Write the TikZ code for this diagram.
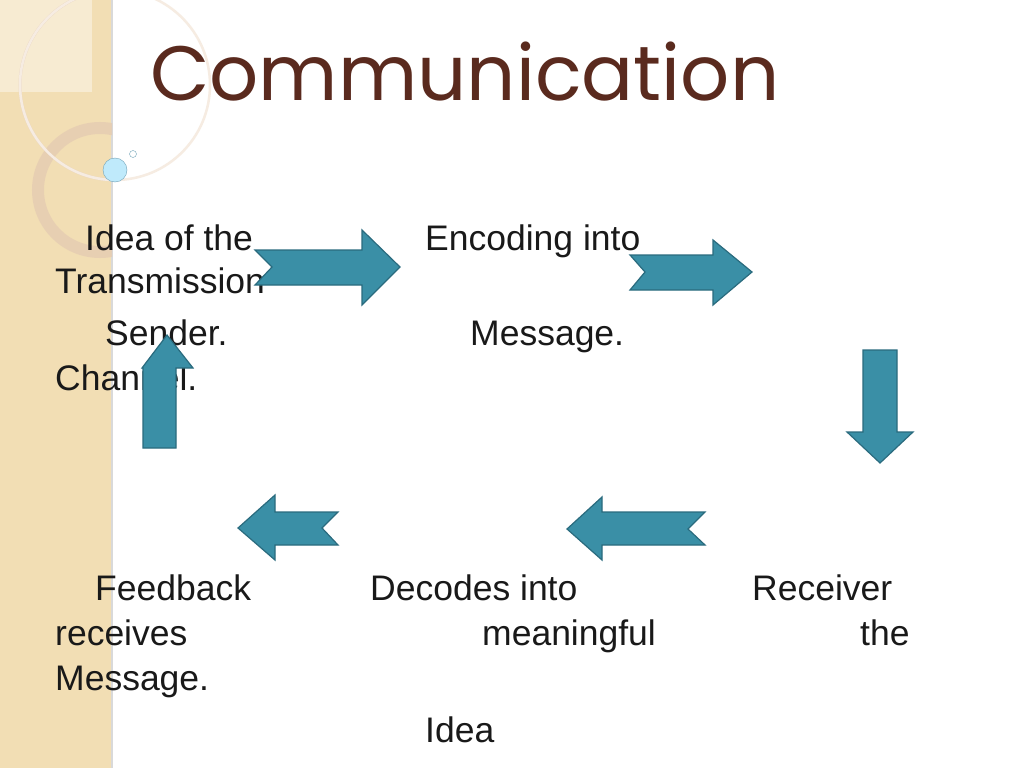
\documentclass[tikz,border=0pt]{standalone}
\usepackage{fontspec}
\setmainfont{Liberation Sans}
\newfontfamily\titlefont{Poppins}
\begin{document}
\begin{tikzpicture}[x=1pt,y=-1pt,
  arr/.style={fill=arrowfill,draw=arrowline,line width=1.2pt,line join=miter},
  txt/.style={anchor=base west,inner sep=0,font=\fontsize{35.5}{40}\selectfont,text=black!90}]
\definecolor{arrowfill}{HTML}{3A8FA6}
\definecolor{arrowline}{HTML}{2A6B7E}
\definecolor{panel}{HTML}{F2DEB4}
\definecolor{titlecol}{HTML}{5A2A1E}
\useasboundingbox (0,0) rectangle (1024,768);
\fill[white] (0,0) rectangle (1024,768);
% left panel
\fill[panel] (0,0) rectangle (112,768);
\fill[panel!60!white] (0,0) rectangle (92,92);
\draw[black!15,line width=2pt] (112,0) -- (112,768);
\begin{scope}
\clip (0,0) rectangle (112,768);
\draw[white!70!brown,line width=3pt] (115,85) circle (95);
\draw[brown!40,opacity=0.8,line width=12pt] (100,190) circle (62);
\end{scope}
\draw[white!85!brown,line width=2.5pt] (115,85) circle (95);
\fill[cyan!25!white,draw=cyan!40!gray] (115,170) circle (12);
\draw[cyan!40!gray] (133,154) circle (3.5);
% title
\node[anchor=base west,inner sep=0,text=titlecol,font=\titlefont\fontsize{77}{80}\selectfont] (title) at (150,100) {Communication};
% texts
\node[txt] (t1) at (85,250) {Idea of the};
\node[txt] (t2) at (55,293) {Transmission};
\node[txt] (t3) at (105,345) {Sender.};
\node[txt] (t4) at (55,390) {Channel.};
\node[txt] (t5) at (425,250) {Encoding into};
\node[txt] (t6) at (470,345) {Message.};
\node[txt] (t7) at (95,600) {Feedback};
\node[txt] (t8) at (55,645) {receives};
\node[txt] (t9) at (55,690) {Message.};
\node[txt] (t10) at (370,600) {Decodes into};
\node[txt] (t11) at (482,645) {meaningful};
\node[txt] (t12) at (425,742) {Idea};
\node[txt] (t13) at (752,600) {Receiver};
\node[txt] (t14) at (860,645) {the};
% arrows
\draw[arr] (255,250) -- (362,250) -- (362,230) -- (400,267) -- (362,305) -- (362,285) -- (255,285) -- (272,267) -- cycle;
\draw[arr] (630,255) -- (713,255) -- (713,240) -- (752,272) -- (713,305) -- (713,290) -- (630,290) -- (645,272) -- cycle;
\draw[arr] (863,350) -- (897,350) -- (897,432) -- (913,432) -- (880,463) -- (847,432) -- (863,432) -- cycle;
\draw[arr] (705,512) -- (602,512) -- (602,497) -- (567,529) -- (602,560) -- (602,545) -- (705,545) -- (688,529) -- cycle;
\draw[arr] (338,512) -- (275,512) -- (275,495) -- (238,528) -- (275,560) -- (275,545) -- (338,545) -- (322,528) -- cycle;
\draw[arr] (176,448) -- (143,448) -- (143,368) -- (142,368) -- (167,335) -- (193,368) -- (176,368) -- cycle;
\end{tikzpicture}
\end{document}
